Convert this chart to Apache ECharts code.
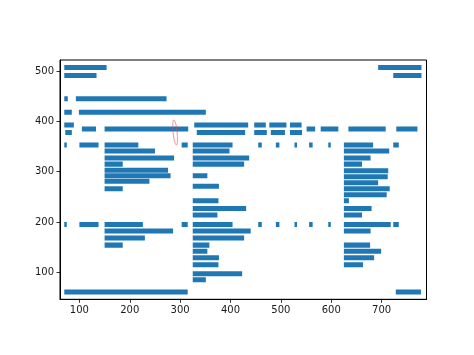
<!DOCTYPE html>
<html>
<head>
<meta charset="utf-8">
<script src="https://cdn.jsdelivr.net/npm/echarts@6/dist/echarts.min.js"></script>
<style>
html,body{margin:0;padding:0;background:#fff;}
#chart{width:474px;height:355px;}
</style>
</head>
<body>
<div id="chart"></div>
<script>
// Each bar: [xStart, xEnd, yCenter]
var headerBars = [
  [70,154,507],[693,779,507],
  [70,134,491],[723,779,491],
  [70,77,445],[93,273,445],
  [70,85,418],[99,351,418]
];
var upperBars = [
  [70,89,393],[328,435,393],[447,470,393],[477,511,393],[518,541,393],
  [105,133,385],[150,316,385],[551,568,385],[579,614,385],[634,708,385],[729,771,385],
  [72,85,378],[333,429,378],[447,472,378],[480,508,378],[518,542,378],
  [70,75,353],[100,138,353],[150,217,353],[303,315,353],[325,404,353],[455,462,353],[490,497,353],[527,532,353],[556,563,353],[594,599,353],[625,683,353],[723,734,353],
  [150,250,341],[325,398,341],[625,715,341]
];
var middleBars = [
  [150,288,327],[325,437,327],[625,678,327],
  [150,186,315],[325,427,315],[625,661,315],
  [150,276,303],[625,713,302],
  [150,281,292],[325,354,292],[625,712,290],
  [150,239,281],[625,693,278],
  [325,377,271],
  [150,186,266],[625,716,266],
  [625,710,254],
  [325,376,242],[625,635,242],
  [325,431,227],[625,680,227],
  [325,374,214],[625,661,214]
];
var lowerBars = [
  [70,75,195],[100,138,195],[150,226,195],[303,315,195],[325,404,195],[455,462,195],[490,497,195],[527,532,195],[556,563,195],[594,599,195],[625,718,195],[723,734,195],
  [150,286,182],[325,440,182],[625,678,182],
  [150,230,168],[325,427,168],
  [150,186,154],[325,358,154],[625,677,154],
  [325,354,142],[625,699,142],
  [325,377,129],[625,685,129],
  [325,376,115],[625,663,115],
  [325,423,97],
  [325,351,85]
];
var footerBars = [
  [70,315,61],[728,778,61]
];
// annotation ellipse: [cx, cy, rx, ry]
var markEllipse = [[290,378,4,25]];
var xTicks = [100,200,300,400,500,600,700];
var yTicks = [100,200,300,400,500];

var BAR_H = 10;
var BLUE = '#1f77b4';
var allBars = headerBars.concat(upperBars, middleBars, lowerBars, footerBars);

function renderBar(params, api) {
  var x0 = api.value(0), x1 = api.value(1), y = api.value(2);
  var p0 = api.coord([x0, y + BAR_H / 2]);
  var p1 = api.coord([x1, y - BAR_H / 2]);
  return {
    type: 'rect',
    shape: {x: p0[0], y: p0[1], width: p1[0] - p0[0], height: p1[1] - p0[1]},
    style: {fill: BLUE}
  };
}
function renderEllipse(params, api) {
  var c = api.coord([api.value(0), api.value(1)]);
  var s = api.size([api.value(2), api.value(3)]);
  var th = -0.1, pts = [];
  for (var i = 0; i <= 72; i++) {
    var t = i / 72 * Math.PI * 2;
    var ex = s[0] * Math.cos(t), ey = s[1] * Math.sin(t);
    pts.push([c[0] + ex * Math.cos(th) - ey * Math.sin(th), c[1] + ex * Math.sin(th) + ey * Math.cos(th)]);
  }
  return {type: 'polyline', shape: {points: pts}, style: {stroke: 'rgba(232,70,70,0.6)', lineWidth: 1, fill: null}};
}

var font = 'DejaVu Sans';
var chart = echarts.init(document.getElementById('chart'), null, {renderer: 'canvas'});
chart.setOption({
  animation: false,
  backgroundColor: '#fff',
  grid: {left: 60, right: 47.5, top: 60, bottom: 55.7, show: true, borderColor: '#000', borderWidth: 1, backgroundColor: 'transparent'},
  xAxis: {
    type: 'value', min: 61.5, max: 789,
    axisLine: {show: true, lineStyle: {color: '#000', width: 1}},
    axisTick: {show: true, length: 3.5, inside: false, customValues: xTicks, lineStyle: {color: '#000', width: 0.8}},
    axisLabel: {customValues: xTicks, color: '#1a1a1a', fontFamily: font, fontSize: 10, margin: 6},
    splitLine: {show: false}
  },
  yAxis: {
    type: 'value', min: 46.3, max: 522,
    axisLine: {show: true, lineStyle: {color: '#000', width: 1}},
    axisTick: {show: true, length: 3.5, inside: false, customValues: yTicks, lineStyle: {color: '#000', width: 0.8}},
    axisLabel: {customValues: yTicks, color: '#1a1a1a', fontFamily: font, fontSize: 10, margin: 6},
    splitLine: {show: false}
  },
  series: [
    {type: 'custom', renderItem: renderBar, data: allBars, encode: {x: [0, 1], y: 2}, clip: true},
    {type: 'custom', renderItem: renderEllipse, data: markEllipse, encode: {x: 0, y: 1}, z: 5}
  ]
});
</script>
</body>
</html>
